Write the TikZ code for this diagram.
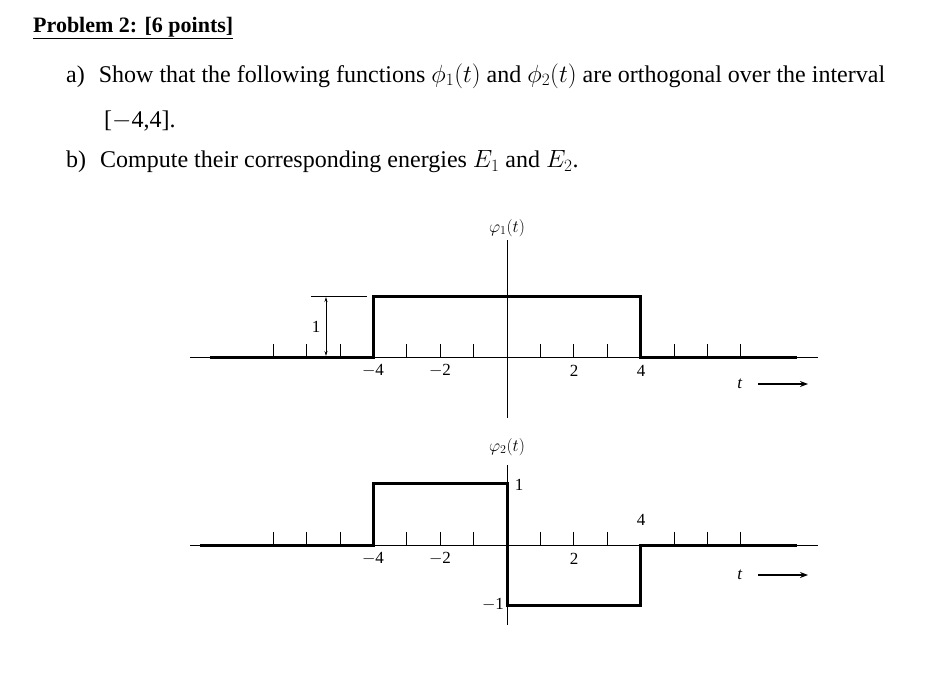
\documentclass[tikz,border=0pt]{standalone}
\usepackage{fontspec}
\setmainfont{Liberation Serif}
\usetikzlibrary{arrows.meta}
\tikzset{
  txt/.style={anchor=west,inner sep=0pt,font=\fontsize{24}{28}\selectfont},
  lbl/.style={inner sep=0pt,font=\fontsize{17}{19}\selectfont},
  sig/.style={line width=3pt,line join=miter},
  ax/.style={line width=0.8pt},
  tk/.style={line width=0.8pt}
}
\begin{document}
\begin{tikzpicture}[x=1pt,y=-1pt]
\useasboundingbox (0,0) rectangle (940,682);
% text
\node[txt,font=\bfseries\fontsize{22}{26}\selectfont] (p) at (33,28) {\underline{Problem 2: [6 points]}};
\node[txt] (a) at (66,76) {a)\hspace{14pt}Show that the following functions $\phi_1(t)$ and $\phi_2(t)$ are orthogonal over the interval};
\node[txt] (a2) at (104,121) {[$-$4,4].};
\node[txt] (b) at (66,162) {b)\hspace{14pt}Compute their corresponding energies $E_1$ and $E_2$.};
% plot 1
\draw[ax] (190,357) -- (818,357);
\draw[ax] (507,240) -- (507,418);
\foreach \k in {-7,-6,-5,-3,-2,-1,1,2,3,5,6,7}
  \draw[tk] (507+33.4*\k,357) -- (507+33.4*\k,344);
\draw[sig] (210,357) -- (373.4,357) -- (373.4,296) -- (640.6,296) -- (640.6,357) -- (797,357);
\node[lbl] (f1) at (507,228) {$\varphi_1(t)$};
\node[lbl] at (373,371) {$-$4};
\node[lbl] at (440,371) {$-$2};
\node[lbl] at (574,371) {2};
\node[lbl] at (641,371) {4};
\draw[ax] (311,296) -- (367,296);
\draw[ax,{Stealth[length=5pt,width=3pt]}-{Stealth[length=5pt,width=3pt]}] (326,297) -- (326,356);
\node[lbl] at (316,327) {1};
\node[lbl] (t1) at (740,384) {\textit{t}};
\draw[line width=1.8pt,-{Stealth[length=8pt,width=6pt]}] (758,384) -- (808,384);
% plot 2
\draw[ax] (190,545) -- (818,545);
\draw[ax] (507,465) -- (507,625);
\foreach \k in {-7,-6,-5,-3,-2,-1,1,2,3,5,6,7}
  \draw[tk] (507+33.4*\k,545) -- (507+33.4*\k,532);
\draw[sig] (200,545) -- (373.4,545) -- (373.4,483) -- (507,483) -- (507,605) -- (640.6,605) -- (640.6,545) -- (797,545);
\node[lbl] (f2) at (507,447) {$\varphi_2(t)$};
\node[lbl] at (373,559) {$-$4};
\node[lbl] at (440,559) {$-$2};
\node[lbl] at (574,559) {2};
\node[lbl] at (641,520) {4};
\node[lbl] at (519,485) {1};
\node[lbl] at (493,605) {$-$1};
\node[lbl] (t2) at (740,575) {\textit{t}};
\draw[line width=1.8pt,-{Stealth[length=8pt,width=6pt]}] (758,575) -- (808,575);
\end{tikzpicture}
\end{document}
